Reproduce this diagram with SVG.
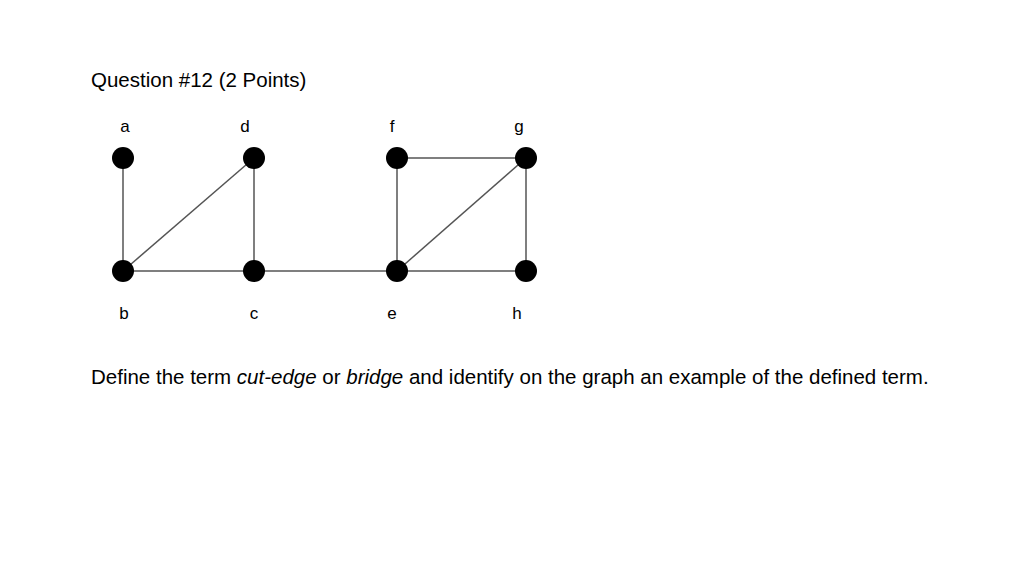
<svg xmlns="http://www.w3.org/2000/svg" width="1024" height="581" viewBox="0 0 1024 581">
<style>
text{font-family:"Liberation Sans",Arial,sans-serif;fill:#000}
.t{font-size:20.5px}
.l{font-size:17px;text-anchor:middle}
line{stroke:#555;stroke-width:1.5}
circle{fill:#000}
</style>
<rect width="1024" height="581" fill="#fff"/>
<text class="t" x="91" y="87">Question #12 (2 Points)</text>
<g id="edges">
<line x1="123" y1="158" x2="123" y2="271"/>
<line x1="123" y1="271" x2="254" y2="158"/>
<line x1="254" y1="158" x2="254" y2="271"/>
<line x1="123" y1="271" x2="254" y2="271"/>
<line x1="254" y1="271" x2="397" y2="271"/>
<line x1="397" y1="271" x2="397" y2="158"/>
<line x1="397" y1="158" x2="526" y2="158"/>
<line x1="397" y1="271" x2="526" y2="158"/>
<line x1="526" y1="158" x2="526" y2="271"/>
<line x1="397" y1="271" x2="526" y2="271"/>
</g>
<g id="a"><circle cx="123" cy="158" r="11"/><text class="l" x="125" y="132">a</text></g>
<g id="d"><circle cx="254" cy="158" r="11"/><text class="l" x="245" y="132">d</text></g>
<g id="f"><circle cx="397" cy="158" r="11"/><text class="l" x="392" y="132">f</text></g>
<g id="g"><circle cx="526" cy="158" r="11"/><text class="l" x="519" y="132">g</text></g>
<g id="b"><circle cx="123" cy="271" r="11"/><text class="l" x="124" y="319">b</text></g>
<g id="c"><circle cx="254" cy="271" r="11"/><text class="l" x="254" y="319">c</text></g>
<g id="e"><circle cx="397" cy="271" r="11"/><text class="l" x="392" y="319">e</text></g>
<g id="h"><circle cx="526" cy="271" r="11"/><text class="l" x="517" y="319">h</text></g>
<text class="t" x="91" y="384">Define the term <tspan font-style="italic">cut-edge</tspan> or <tspan font-style="italic">bridge</tspan> and identify on the graph an example of the defined term.</text>
</svg>
